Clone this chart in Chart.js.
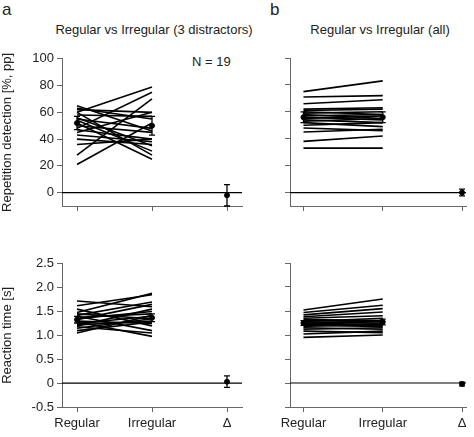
<!DOCTYPE html><html><head><script src="https://cdn.jsdelivr.net/npm/chart.js@4"></script>
<style>body{margin:0;width:474px;height:437px;position:relative;background:#fff;font-family:Arial,"Liberation Sans",sans-serif;overflow:hidden}
canvas{position:absolute}.t{position:absolute;font-size:13px;color:#222;white-space:nowrap}</style></head><body>
<div class="t" style="left:2px;top:0px;font-size:17px">a</div>
<div class="t" style="left:270px;top:0px;font-size:17px">b</div>
<div class="t" style="left:154px;top:22px;transform:translateX(-50%)">Regular vs Irregular (3 distractors)</div>
<div class="t" style="left:380px;top:22px;transform:translateX(-50%)">Regular vs Irregular (all)</div>
<div class="t" style="left:192px;top:54px">N = 19</div>
<canvas id="c1" width="250" height="170" style="left:0;top:48px"></canvas>
<canvas id="c2" width="474" height="170" style="left:0;top:48px"></canvas>
<canvas id="c3" width="250" height="184" style="left:0;top:253px"></canvas>
<canvas id="c4" width="474" height="184" style="left:0;top:253px"></canvas>
<script>
const categories=["Regular","Irregular","Δ"];
const detRegA=[65,63,62,60,60,58,56,55,54,52,50,48,47,45,43,40,36,28,21];
const detIrrA=[46,55,60,28,79,57,35,48,31,25,45,75,40,60,38,36,40,70,52];
const detStatsA=[[52,5],[50,7],[-2,8]];
const detRegB=[75,71,66,62,61,60,59,58,57,56,55,54,53,52,50,48,45,38,33];
const detIrrB=[83,72,69,63,62,58,60,55,58,54,57,52,55,49,52,46,47,42,33];
const detStatsB=[[56,4],[56,4],[0,2.5]];
const rtRegA=[1.72,1.62,1.55,1.48,1.45,1.42,1.40,1.38,1.35,1.33,1.30,1.28,1.25,1.22,1.20,1.18,1.15,1.10,1.05];
const rtIrrA=[1.60,1.85,1.20,1.88,1.35,1.70,1.10,1.45,1.50,1.65,1.25,0.98,1.40,1.30,1.55,1.05,1.35,1.28,1.42];
const rtStatsA=[[1.33,0.07],[1.37,0.08],[0.03,0.12]];
const rtRegB=[1.52,1.47,1.42,1.38,1.35,1.32,1.30,1.28,1.27,1.25,1.24,1.22,1.20,1.18,1.15,1.12,1.08,1.02,0.95];
const rtIrrB=[1.75,1.62,1.55,1.48,1.40,1.30,1.28,1.35,1.25,1.22,1.30,1.20,1.18,1.24,1.12,1.15,1.05,1.08,1.00];
const rtStatsB=[[1.25,0.05],[1.27,0.06],[-0.02,0.04]];
const detTicks=[0,20,40,60,80,100];
const rtTicks=[-0.5,0,0.5,1,1.5,2,2.5];
const gray='#666';
function make(id,reg,irr,stats,ymin,ymax,ticks,left,xmin,xmax,showY,showX,yTitle,xH){
  const ds=reg.map((r,i)=>({data:[{x:0,y:r},{x:1,y:irr[i]}],showLine:true,borderColor:'#000',borderWidth:1.6,pointRadius:0}));
  ds.push({data:[{x:xmin,y:0},{x:xmax,y:0}],showLine:true,borderColor:'#000',borderWidth:1.2,pointRadius:0});
  ds.push({data:stats.map((s,i)=>({x:i,y:s[0]})),showLine:false,pointRadius:2.5,backgroundColor:'#000',borderColor:'#000'});
  const err={id:'err',afterDatasetsDraw(c){const x=c.scales.x,y=c.scales.y,g=c.ctx;g.save();g.strokeStyle='#000';g.lineWidth=1.3;
    stats.forEach((s,i)=>{const px=x.getPixelForValue(i),a=y.getPixelForValue(s[0]-s[1]),b=y.getPixelForValue(s[0]+s[1]);
    g.beginPath();g.moveTo(px,a);g.lineTo(px,b);g.moveTo(px-3,a);g.lineTo(px+3,a);g.moveTo(px-3,b);g.lineTo(px+3,b);g.stroke();});g.restore();}};
  new Chart(document.getElementById(id),{type:'scatter',data:{datasets:ds},plugins:[err],
   options:{responsive:false,animation:false,events:[],layout:{padding:{top:10,right:8}},
    plugins:{legend:{display:false},tooltip:{enabled:false}},
    scales:{x:{type:'linear',min:xmin,max:xmax,afterBuildTicks:s=>{s.ticks=[0,1,2].map(v=>({value:v}));},
      afterFit:s=>{s.height=xH;},
      ticks:{display:showX,color:'#222',font:{size:13,family:'Arial'},callback:v=>categories[v],maxRotation:0,padding:4},
      grid:{drawOnChartArea:false,tickLength:5,color:gray},border:{color:gray}},
     y:{min:ymin,max:ymax,afterBuildTicks:s=>{s.ticks=ticks.map(v=>({value:v}));},afterFit:s=>{s.width=left;},
      ticks:{display:showY,color:'#222',font:{size:13,family:'Arial'},padding:3},
      title:{display:!!yTitle,text:yTitle,color:'#222',font:{size:13,family:'Arial'},padding:0},
      grid:{drawOnChartArea:false,tickLength:5,color:gray},border:{color:gray}}}}});
}
make('c1',detRegA,detIrrA,detStatsA,-10,100,detTicks,62,-0.2,2.2,true,false,'Repetition detection [%, pp]',12);
make('c3',rtRegA,rtIrrA,rtStatsA,-0.5,2.5,rtTicks,62,-0.2,2.2,true,true,'Reaction time [s]',30);
make('c2',detRegB,detIrrB,detStatsB,-10,100,detTicks,290,-0.17,2.05,false,false,'',12);
make('c4',rtRegB,rtIrrB,rtStatsB,-0.5,2.5,rtTicks,290,-0.17,2.05,false,true,'',30);
</script>
</body></html>
